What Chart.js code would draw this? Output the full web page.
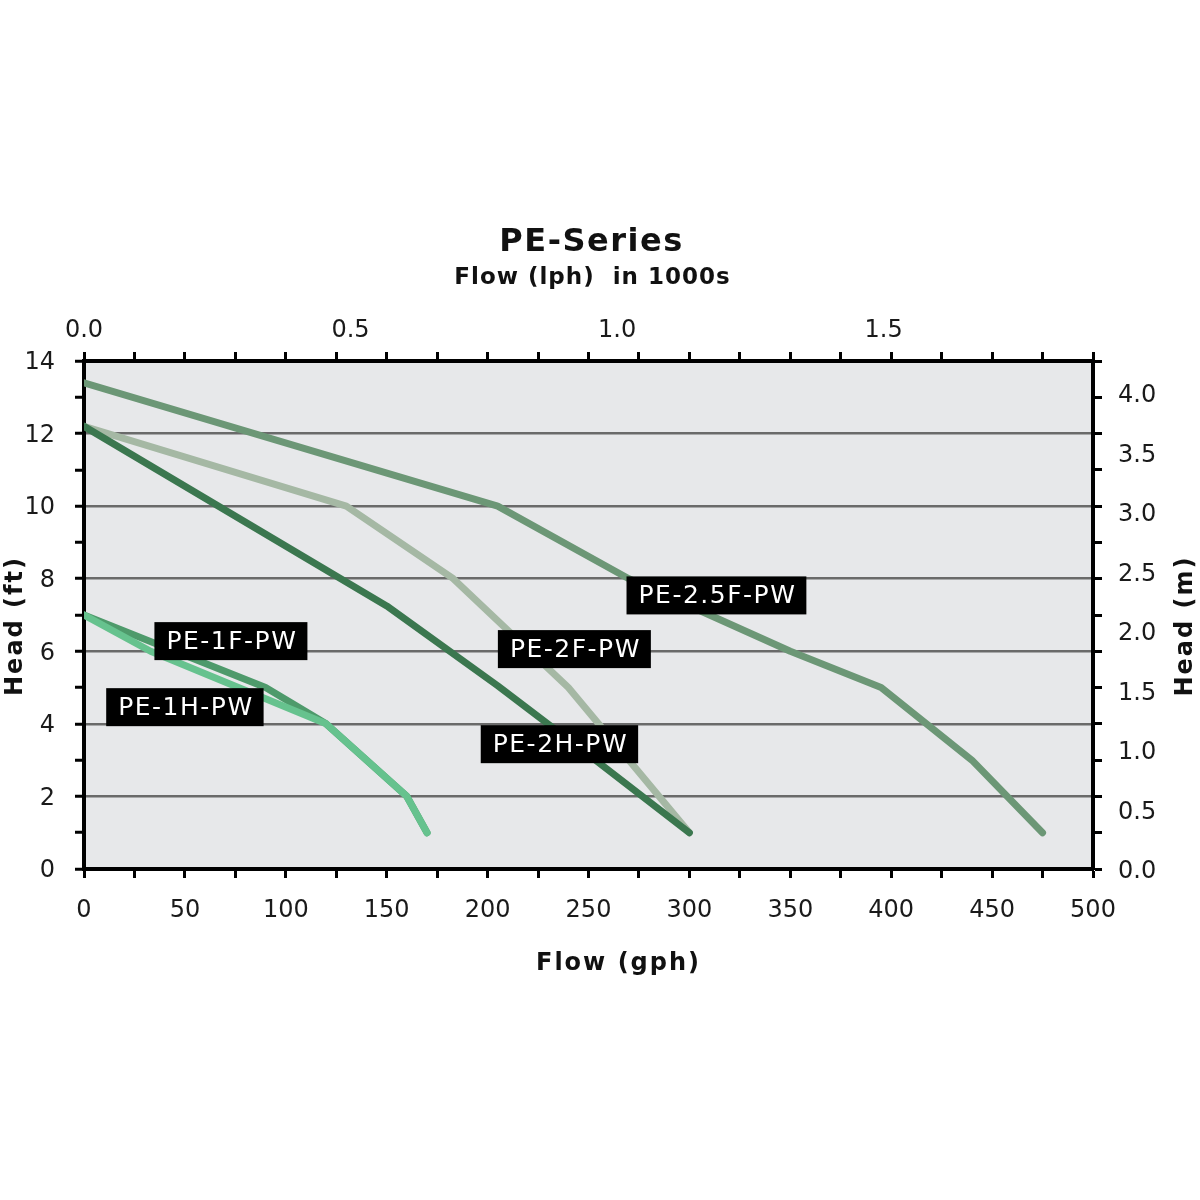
<!DOCTYPE html>
<html><head><meta charset="utf-8">
<script src="https://cdn.jsdelivr.net/npm/chart.js"></script>
<style>html,body{margin:0;padding:0;background:#fff;}#wrap{width:1200px;height:1200px;position:relative;}#err{position:absolute;left:10px;top:10px;color:red;font:14px monospace;white-space:pre;}</style>
</head><body><div id="wrap"><canvas id="c" width="1200" height="1200"></canvas><div id="err"></div></div>
<script>
// ---- text ----
const TITLE = 'PE-Series';
const SUBTITLE = 'Flow (lph)  in 1000s';
const X_TITLE = 'Flow (gph)';
const Y_TITLE = 'Head (ft)';
const Y2_TITLE = 'Head (m)';

// ---- series (flow in gph, head in ft) ----
const SERIES_NAMES = ['PE-2.5F-PW', 'PE-2F-PW', 'PE-2H-PW', 'PE-1F-PW', 'PE-1H-PW'];
const FLOW_25F = [0, 205, 270, 350, 395, 440, 475];
const HEAD_25F = [13.4, 10, 8, 6, 5, 3, 1];
const FLOW_2F = [0, 130, 183, 240, 300];
const HEAD_2F = [12.2, 10, 8, 5, 1];
const FLOW_2H = [0, 150, 205, 250, 300];
const HEAD_2H = [12.2, 7.25, 5.05, 3.15, 1];
const FLOW_1F = [0, 90, 120, 160, 170];
const HEAD_1F = [7, 5, 4, 2, 1];
const FLOW_1H = [0, 33, 120, 160, 170];
const HEAD_1H = [7, 6, 4, 2, 1];

// ---- tick labels ----
const GPH_LABELS = [0, 50, 100, 150, 200, 250, 300, 350, 400, 450, 500];
const LPH_K_LABELS = [0.0, 0.5, 1.0, 1.5];
const FT_LABELS = [0, 2, 4, 6, 8, 10, 12, 14];
const M_LABELS = [0.0, 0.5, 1.0, 1.5, 2.0, 2.5, 3.0, 3.5, 4.0];

const L_PER_GAL = 3.78541;
const M_PER_FT = 0.3048;

try {
const pts = (xs, ys) => xs.map((x, i) => ({ x: x, y: ys[i] }));

const FONT = 'DejaVu Sans';
const TICK_FONT = { family: FONT, size: 24 };

const COLORS = {
  'PE-2.5F-PW': '#6c9776',
  'PE-2F-PW': '#a5b8a4',
  'PE-2H-PW': '#3b774f',
  'PE-1F-PW': '#4e9a6b',
  'PE-1H-PW': '#66c28e'
};

function makeDs(name, xs, ys) {
  return {
    label: name, data: pts(xs, ys), borderColor: COLORS[name], backgroundColor: COLORS[name],
    borderWidth: 7, pointRadius: 0, tension: 0, borderCapStyle: 'round', borderJoinStyle: 'round',
    xAxisID: 'x', yAxisID: 'y', fill: false
  };
}

const LABEL_BOXES = [
  { text: SERIES_NAMES[0], gph: 313.4, ft: 7.54 },
  { text: SERIES_NAMES[1], gph: 243, ft: 6.06 },
  { text: SERIES_NAMES[2], gph: 235.6, ft: 3.44 },
  { text: SERIES_NAMES[3], gph: 72.8, ft: 6.28 },
  { text: SERIES_NAMES[4], gph: 50, ft: 4.46 }
];

const near = (a, b) => Math.abs(a - b) < 1e-6;
const lphLabelFor = v => LPH_K_LABELS.find(k => near(k * 1000 / L_PER_GAL, v));
const mLabelFor = v => M_LABELS.find(m => near(m / M_PER_FT, v));

const bgPlugin = {
  id: 'plotBg',
  beforeDraw(chart) {
    const ctx = chart.ctx, a = chart.chartArea;
    ctx.save();
    ctx.fillStyle = '#e7e8ea';
    ctx.fillRect(a.left, a.top, a.right - a.left, a.bottom - a.top);
    ctx.restore();
  }
};

const textPlugin = {
  id: 'texts',
  afterDraw(chart) {
    const ctx = chart.ctx, scales = chart.scales, a = chart.chartArea;
    ctx.save();
    ctx.font = '500 25px "' + FONT + '"';
    ctx.letterSpacing = '1.5px';
    ctx.textAlign = 'center';
    ctx.textBaseline = 'middle';
    LABEL_BOXES.forEach(b => {
      const cx = scales.x.getPixelForValue(b.gph);
      const cy = scales.y.getPixelForValue(b.ft);
      const w = ctx.measureText(b.text).width + 22;
      const h = 38;
      ctx.fillStyle = '#000';
      ctx.fillRect(cx - w / 2, cy - h / 2, w, h);
      ctx.fillStyle = '#fff';
      ctx.fillText(b.text, cx + 1, cy + 1);
    });
    ctx.fillStyle = '#111';
    ctx.letterSpacing = '1.5px';
    ctx.font = 'bold 32px "' + FONT + '"';
    ctx.fillText(TITLE, (a.left + a.right) / 2 + 3, 243);
    ctx.letterSpacing = '1px';
    ctx.font = 'bold 23px "' + FONT + '"';
    ctx.fillText(SUBTITLE, (a.left + a.right) / 2 + 4, 278);
    ctx.letterSpacing = '2px';
    ctx.font = 'bold 24px "' + FONT + '"';
    ctx.fillText(X_TITLE, (a.left + a.right) / 2 + 30, 964);
    ctx.save();
    ctx.translate(16, 626);
    ctx.rotate(-Math.PI / 2);
    ctx.fillText(Y_TITLE, 0, 0);
    ctx.restore();
    ctx.save();
    ctx.translate(1186, 626);
    ctx.rotate(-Math.PI / 2);
    ctx.fillText(Y2_TITLE, 0, 0);
    ctx.restore();
    ctx.restore();
  }
};

const BORDER = { color: '#000', width: 4 };
const tickGrid = (extra) => Object.assign({ drawOnChartArea: false, tickLength: 9, tickWidth: 3, tickColor: '#000' }, extra || {});

new Chart(document.getElementById('c'), {
  type: 'line',
  data: {
    datasets: [
      makeDs('PE-1H-PW', FLOW_1H, HEAD_1H),
      makeDs('PE-1F-PW', FLOW_1F, HEAD_1F),
      makeDs('PE-2H-PW', FLOW_2H, HEAD_2H),
      makeDs('PE-2F-PW', FLOW_2F, HEAD_2F),
      makeDs('PE-2.5F-PW', FLOW_25F, HEAD_25F)
    ]
  },
  options: {
    responsive: false,
    animation: false,
    devicePixelRatio: 1,
    layout: { padding: 0 },
    plugins: { legend: { display: false }, tooltip: { enabled: false }, title: { display: false } },
    scales: {
      x: {
        type: 'linear', position: 'bottom', min: 0, max: 500,
        ticks: { stepSize: 25, autoSkip: false, maxRotation: 0, padding: 18, color: '#1a1a1a', font: TICK_FONT,
          callback: v => GPH_LABELS.includes(v) ? String(v) : '' },
        grid: tickGrid(), border: BORDER,
        afterFit: s => { s.height = 331; }
      },
      x2: {
        type: 'linear', position: 'top', min: 0, max: 500,
        afterBuildTicks: s => {
          const t = [];
          for (let v = 0; v <= 500; v += 25) t.push({ value: v });
          LPH_K_LABELS.forEach(k => { const g = k * 1000 / L_PER_GAL; if (g > 0) t.push({ value: g }); });
          t.sort((p, q) => p.value - q.value);
          s.ticks = t;
        },
        ticks: { autoSkip: false, maxRotation: 0, padding: 7, color: '#1a1a1a', font: TICK_FONT,
          callback: v => { const k = lphLabelFor(v); return k === undefined ? '' : k.toFixed(1); } },
        grid: tickGrid({ tickColor: c => (c.tick && c.tick.value % 25 !== 0) ? 'rgba(0,0,0,0)' : '#000' }),
        border: BORDER,
        afterFit: s => { s.height = 361; }
      },
      y: {
        type: 'linear', position: 'left', min: 0, max: 14,
        ticks: { stepSize: 1, autoSkip: false, padding: 20, color: '#1a1a1a', font: TICK_FONT, labelOffset: 2,
          callback: v => FT_LABELS.includes(v) ? String(v) : '' },
        grid: {
          drawOnChartArea: true, tickLength: 9, tickWidth: 3, tickColor: '#000', lineWidth: 2.5,
          color: c => { const v = c.tick ? c.tick.value : -1; return (v > 0 && v < 14 && v % 2 === 0) ? '#6a6a6a' : 'rgba(0,0,0,0)'; }
        },
        border: BORDER,
        afterFit: s => { s.width = 84; }
      },
      y2: {
        type: 'linear', position: 'right', min: 0, max: 14,
        afterBuildTicks: s => {
          const t = [];
          for (let v = 0; v <= 14; v += 1) t.push({ value: v });
          M_LABELS.forEach(m => { const f = m / M_PER_FT; if (f > 0) t.push({ value: f }); });
          t.sort((p, q) => p.value - q.value);
          s.ticks = t;
        },
        ticks: { autoSkip: false, padding: 16, color: '#1a1a1a', font: TICK_FONT, labelOffset: 3,
          callback: v => { const m = mLabelFor(v); return m === undefined ? '' : m.toFixed(1); } },
        grid: tickGrid({ tickColor: c => (c.tick && !Number.isInteger(c.tick.value)) ? 'rgba(0,0,0,0)' : '#000' }),
        border: BORDER,
        afterFit: s => { s.width = 107; }
      }
    }
  },
  plugins: [bgPlugin, textPlugin]
});
} catch (e) {
  document.getElementById('err').textContent = String(e && e.stack || e);
}
</script>
</body></html>
